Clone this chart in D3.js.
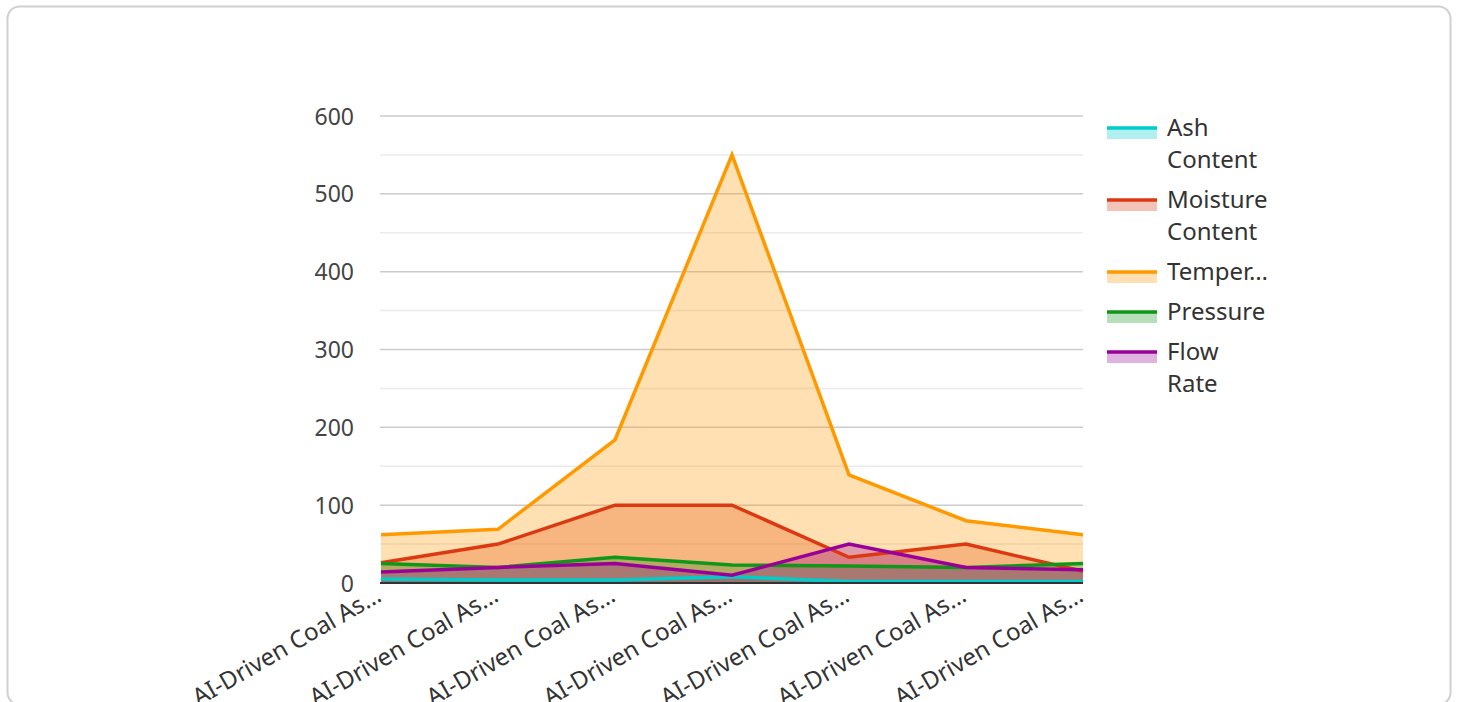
<!DOCTYPE html>
<html>
<head>
<meta charset="utf-8">
<script src="https://cdn.jsdelivr.net/npm/d3@7/dist/d3.min.js"></script>
<style>
  html, body { margin: 0; padding: 0; background: #fff; }
  svg { display: block; font-family: "Noto Sans", "Open Sans", sans-serif; }
</style>
</head>
<body>
<svg id="chart" width="1458" height="702"></svg>
<script>
// Categories along the x axis (labels as displayed)
const categories = [
  "AI-Driven Coal As…", "AI-Driven Coal As…", "AI-Driven Coal As…",
  "AI-Driven Coal As…", "AI-Driven Coal As…", "AI-Driven Coal As…",
  "AI-Driven Coal As…"
];

// Series names and values
const seriesNames = ["Ash Content", "Moisture Content", "Temperature", "Pressure", "Flow Rate"];
const ashContent      = [5, 4, 4, 8, 2, 2, 2];
const moistureContent = [26, 50, 100, 100, 33, 50, 15];
const temperature     = [62, 69, 184, 550, 139, 80, 62];
const pressure        = [25, 20, 33, 23, 22, 20, 25];
const flowRate        = [14, 20, 25, 10, 50, 20, 17];
const seriesValues = [ashContent, moistureContent, temperature, pressure, flowRate];
const seriesColors = ["#00cccc", "#dc3912", "#ff9900", "#109618", "#990099"];

// Y axis ticks
const yTicks = [0, 100, 200, 300, 400, 500, 600];
const yMinorTicks = [50, 150, 250, 350, 450, 550];

const svg = d3.select("#chart");

// Card frame
svg.append("rect")
  .attr("x", 7.5).attr("y", 6.5)
  .attr("width", 1443).attr("height", 698)
  .attr("rx", 12).attr("ry", 12)
  .attr("fill", "#fff")
  .attr("stroke", "#d0d0d0").attr("stroke-width", 2);

const plot = { left: 381, right: 1083, top: 116, bottom: 583 };

const x = d3.scalePoint()
  .domain(d3.range(categories.length))
  .range([plot.left, plot.right])
  .padding(0);

const y = d3.scaleLinear()
  .domain([0, 600])
  .range([plot.bottom, plot.top]);

// Gridlines
const grid = svg.append("g");
grid.selectAll("line.minor")
  .data(yMinorTicks)
  .join("line")
  .attr("class", "minor")
  .attr("x1", plot.left - 1).attr("x2", plot.right)
  .attr("y1", d => y(d)).attr("y2", d => y(d))
  .attr("stroke", "#ebebeb").attr("stroke-width", 1.5);
grid.selectAll("line.major")
  .data(yTicks.filter(d => d !== 0))
  .join("line")
  .attr("class", "major")
  .attr("x1", plot.left - 1).attr("x2", plot.right)
  .attr("y1", d => y(d)).attr("y2", d => y(d))
  .attr("stroke", "#cccccc").attr("stroke-width", 1.5);

// Y axis labels
const yAxis = d3.axisLeft(y).tickValues(yTicks).tickSize(0).tickPadding(0);
const yG = svg.append("g")
  .attr("transform", `translate(${plot.left - 27},0)`)
  .call(yAxis);
yG.select(".domain").remove();
yG.selectAll("text")
  .attr("font-size", 23)
  .attr("font-family", "\"Noto Sans\", \"Open Sans\", sans-serif")
  .attr("fill", "#444")
  .attr("dy", "0.35em");

// Areas and lines
const area = d3.area()
  .x((d, i) => x(i))
  .y0(y(0))
  .y1(d => y(d));
const line = d3.line()
  .x((d, i) => x(i))
  .y(d => y(d));

const areasG = svg.append("g");
seriesValues.forEach((vals, k) => {
  areasG.append("path")
    .attr("d", area(vals))
    .attr("fill", seriesColors[k])
    .attr("fill-opacity", 0.3);
});
const linesG = svg.append("g");
seriesValues.forEach((vals, k) => {
  linesG.append("path")
    .attr("d", line(vals))
    .attr("fill", "none")
    .attr("stroke", seriesColors[k])
    .attr("stroke-width", 3.5)
    .attr("stroke-linejoin", "miter");
});

// Baseline
svg.append("line")
  .attr("x1", plot.left - 1).attr("x2", plot.right)
  .attr("y1", y(0)).attr("y2", y(0))
  .attr("stroke", "#333").attr("stroke-width", 2);

// X axis labels (rotated)
const xG = svg.append("g");
xG.selectAll("text")
  .data(categories)
  .join("text")
  .attr("transform", (d, i) => `translate(${x(i) + 2},${plot.bottom + 17}) rotate(-30)`)
  .attr("text-anchor", "end")
  .attr("font-size", 24)
  .attr("fill", "#333")
  .text(d => d);

// Legend
const legend = svg.append("g").attr("transform", "translate(1107,0)");
const legendFont = 24;
const maxLabelWidth = 105;
const lineHeight = 32;
let cy = 128;
seriesNames.forEach((name, k) => {
  const g = legend.append("g");
  g.append("rect")
    .attr("x", 0).attr("y", cy)
    .attr("width", 50).attr("height", 11)
    .attr("fill", seriesColors[k]).attr("fill-opacity", 0.3);
  g.append("line")
    .attr("x1", 0).attr("x2", 50)
    .attr("y1", cy).attr("y2", cy)
    .attr("stroke", seriesColors[k]).attr("stroke-width", 3.5);

  // Greedy wrap; single words that overflow get an ellipsis
  const probe = g.append("text").attr("font-size", legendFont).attr("visibility", "hidden");
  const measure = s => { probe.text(s); return probe.node().getComputedTextLength(); };
  const words = name.split(" ");
  const lines = [];
  let cur = "";
  words.forEach(w => {
    const trial = cur ? cur + " " + w : w;
    if (measure(trial) <= maxLabelWidth || !cur) cur = trial;
    else { lines.push(cur); cur = w; }
  });
  if (cur) lines.push(cur);
  const fitted = lines.map(l => {
    if (measure(l) <= maxLabelWidth) return l;
    let s = l;
    while (s.length > 1 && measure(s + "…") > maxLabelWidth) s = s.slice(0, -1);
    return s + "…";
  });
  probe.remove();

  fitted.forEach((l, j) => {
    g.append("text")
      .attr("x", 60).attr("y", cy + j * lineHeight)
      .attr("dy", "0.35em")
      .attr("font-size", legendFont)
      .attr("fill", "#333")
      .text(l);
  });
  cy += fitted.length * lineHeight + 8;
});
</script>
</body>
</html>
